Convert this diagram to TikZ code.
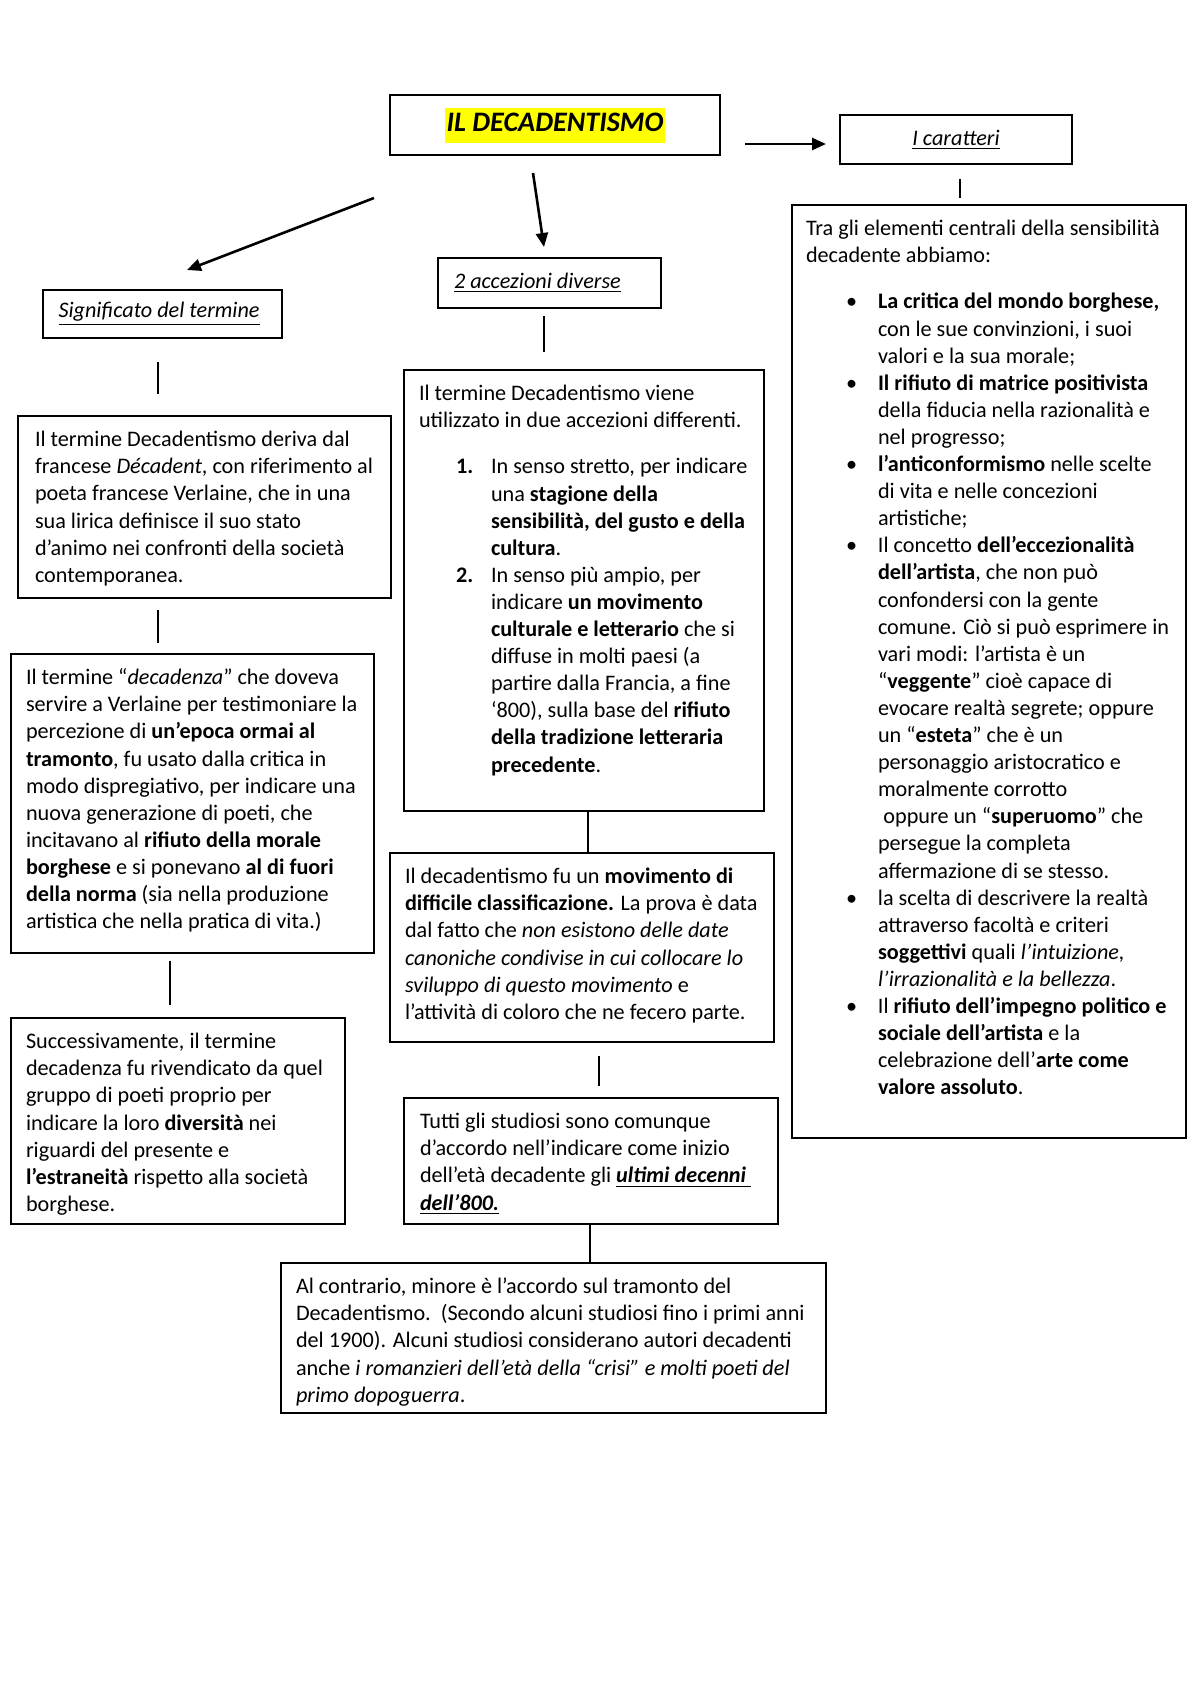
\documentclass[tikz,border=0pt]{standalone}
\usepackage{fontspec}
\setmainfont{Carlito}
\usepackage{xcolor}
\usepackage{tikz}
\usetikzlibrary{arrows.meta, positioning}
\definecolor{evidenzia}{HTML}{FFFF00}
\newcommand{\corpo}{\fontsize{11.1}{13.55}\selectfont}
\newcommand{\testo}[3]{\begin{minipage}[t][#2][t]{#1}\raggedright\vspace*{1.9pt}\strut #3\end{minipage}}
\newcommand{\voce}[3][16pt]{\par\hangindent=36pt\hangafter=0\noindent
  \llap{\makebox[#1][l]{#2}}{\let\\\newline #3}}
\newcommand{\sott}[1]{\underline{\textit{#1}}}

\begin{document}
\begin{tikzpicture}[
  x=0.5pt, y=-0.5pt,
  scatola/.style={draw, line width=1.2pt, anchor=north west,
    outer sep=0pt, inner xsep=7.5pt, inner ysep=4pt, font=\corpo},
  etichetta/.style={draw, line width=1.2pt, anchor=north west,
    outer sep=0pt, inner sep=0pt, font=\corpo},
  linea/.style={line width=1.3pt},
  freccia/.style={line width=1.3pt, -{Triangle[length=7pt,width=6pt]}},
]
  \path[fill=white] (0,0) rectangle (1200,1698);

  %% ─── TITOLO E ETICHETTE ─────────────────────────────────────────────
  \node[etichetta, minimum width=165pt, minimum height=30pt] (titolo) at (390,95)
    {\fontsize{14.1}{15.5}\selectfont\setlength{\fboxsep}{1pt}%
     \colorbox{evidenzia}{\strut\textbf{\textit{IL DECADENTISMO}}}};
  \node[etichetta, minimum width=116pt, minimum height=24.5pt] (caratteri) at (840,115)
    {\sott{I caratteri}};
  \node[etichetta, inner xsep=7.75pt, minimum height=24pt] (signif) at (43,290)
    {\makebox[104pt][l]{\sott{Significato del termine}}};
  \node[etichetta, inner xsep=8pt, minimum height=25pt] (accez) at (438,258)
    {\makebox[95.5pt][l]{\sott{2 accezioni diverse}}};

  %% ─── COLONNA SINISTRA ───────────────────────────────────────────────
  \node[scatola, inner xsep=8.5pt] (deriva) at (18,416) {\testo{169.5pt}{83pt}{%
    Il termine Decadentismo deriva dal\\
    francese \textit{Décadent}, con riferimento al\\
    poeta francese Verlaine, che in una\\
    sua lirica definisce il suo stato\\
    d’animo nei confronti della società\\
    contemporanea.}};

  \node[scatola] (decadenza) at (11,654) {\testo{166.5pt}{141.5pt}{%
    Il termine “\textit{decadenza}” che doveva\\
    servire a Verlaine per testimoniare la\\
    percezione di \textbf{un’epoca ormai al}\\
    \textbf{tramonto}, fu usato dalla critica in\\
    modo dispregiativo, per indicare una\\
    nuova generazione di poeti, che\\
    incitavano al \textbf{rifiuto della morale}\\
    \textbf{borghese} e si ponevano \textbf{al di fuori}\\
    \textbf{della norma} (sia nella produzione\\
    artistica che nella pratica di vita.)}};

  \node[scatola] (succ) at (11,1018) {\testo{152pt}{95pt}{%
    Successivamente, il termine\\
    decadenza fu rivendicato da quel\\
    gruppo di poeti proprio per\\
    indicare la loro \textbf{diversità} nei\\
    riguardi del presente e\\
    \textbf{l’estraneità} rispetto alla società\\
    borghese.}};

  %% ─── COLONNA CENTRALE ───────────────────────────────────────────────
  \node[scatola] (viene) at (404,370) {\testo{165pt}{212.5pt}{%
    Il termine Decadentismo viene\\
    utilizzato in due accezioni differenti.\par\vspace{9.5pt}
    \voce[17.5pt]{\textbf{1.}}{In senso stretto, per indicare\\
      una \textbf{stagione della}\\
      \textbf{sensibilità, del gusto e della}\\
      \textbf{cultura}.}
    \voce[17.5pt]{\textbf{2.}}{In senso più ampio, per\\
      indicare \textbf{un movimento}\\
      \textbf{culturale e letterario} che si\\
      diffuse in molti paesi (a\\
      partire dalla Francia, a fine\\
      ‘800), sulla base del \textbf{rifiuto}\\
      \textbf{della tradizione letteraria}\\
      \textbf{precedente}.}}};

  \node[scatola] (classif) at (390,853) {\testo{177pt}{86.5pt}{%
    Il decadentismo fu un \textbf{movimento di}\\
    \textbf{difficile classificazione.} La prova è data\\
    dal fatto che \textit{non esistono delle date}\\
    \textit{canoniche condivise in cui collocare lo}\\
    \textit{sviluppo di questo movimento} e\\
    l’attività di coloro che ne fecero parte.}};

  \node[scatola, inner xsep=8pt] (tutti) at (404,1098) {\testo{171pt}{55pt}{%
    Tutti gli studiosi sono comunque\\
    d’accordo nell’indicare come inizio\\
    dell’età decadente gli \underline{\textbf{\textit{ultimi decenni\ }}}\\
    \underline{\textbf{\textit{dell’800.}}}}};

  \node[scatola] (contrario) at (281,1263) {\testo{257.5pt}{67pt}{%
    Al contrario, minore è l’accordo sul tramonto del\\
    Decadentismo.\ \ (Secondo alcuni studiosi fino i primi anni\\
    del 1900). Alcuni studiosi considerano autori decadenti\\
    anche \textit{i romanzieri dell’età della “crisi” e molti poeti del}\\
    \textit{primo dopoguerra}.}};

  %% ─── COLONNA DESTRA ─────────────────────────────────────────────────
  \node[scatola, inner xsep=7pt] (destra) at (792,205) {\testo{183pt}{458.5pt}{%
    Tra gli elementi centrali della sensibilità\\
    decadente abbiamo:\par\vspace{9.5pt}
    \voce{\textbullet}{\textbf{La critica del mondo borghese,}\\
      con le sue convinzioni, i suoi\\
      valori e la sua morale;}
    \voce{\textbullet}{\textbf{Il rifiuto di matrice positivista}\\
      della fiducia nella razionalità e\\
      nel progresso;}
    \voce{\textbullet}{\textbf{l’anticonformismo} nelle scelte\\
      di vita e nelle concezioni\\
      artistiche;}
    \voce{\textbullet}{Il concetto \textbf{dell’eccezionalità}\\
      \textbf{dell’artista}, che non può\\
      confondersi con la gente\\
      comune. Ciò si può esprimere in\\
      vari modi: l’artista è un\\
      “\textbf{veggente}” cioè capace di\\
      evocare realtà segrete; oppure\\
      un “\textbf{esteta}” che è un\\
      personaggio aristocratico e\\
      moralmente corrotto\\
      \hspace*{2.7pt}oppure un “\textbf{superuomo}” che\\
      persegue la completa\\
      affermazione di se stesso.}
    \voce{\textbullet}{la scelta di descrivere la realtà\\
      attraverso facoltà e criteri\\
      \textbf{soggettivi} quali \textit{l’intuizione,}\\
      \textit{l’irrazionalità e la bellezza}.}
    \voce{\textbullet}{Il \textbf{rifiuto dell’impegno politico e}\\
      \textbf{sociale dell’artista} e la\\
      celebrazione dell’\textbf{arte come}\\
      \textbf{valore assoluto}.}}};

  %% ─── CONNETTORI ─────────────────────────────────────────────────────
  % frecce dal titolo
  \draw[freccia] ([shift={(-16,43)}]titolo.south west) -- ([shift={(24.5,-20)}]signif.north);
  \draw[freccia] ([shift={(-22,18)}]titolo.south) -- ([shift={(-5.5,-11)}]accez.north);
  \draw[freccia] ([shift={(25,19)}]titolo.east) -- ([shift={(-14,4.5)}]caratteri.west);

  % linee verticali
  \draw[linea] ([shift={(4,15)}]caratteri.south) -- ([shift={(-29,-7)}]destra.north);
  \draw[linea] ([shift={(-4.5,24)}]signif.south) -- ([shift={(-46.5,-22)}]deriva.north);
  \draw[linea] ([shift={(-5.5,8)}]accez.south) -- ([shift={(-40,-18)}]viene.north);
  \draw[linea] ([shift={(-46.5,12)}]deriva.south) -- ([shift={(-34.5,-11)}]decadenza.north);
  \draw[linea] ([shift={(4,0)}]viene.south) -- ([shift={(6,0)}]classif.north);
  \draw[linea] ([shift={(-22.5,8)}]decadenza.south) -- ([shift={(-8,-13)}]succ.north);
  \draw[linea] ([shift={(17,14)}]classif.south) -- ([shift={(8,-12)}]tutti.north);
  \draw[linea] ([shift={(-1,0)}]tutti.south) -- ([shift={(36.5,0)}]contrario.north);
\end{tikzpicture}
\end{document}
